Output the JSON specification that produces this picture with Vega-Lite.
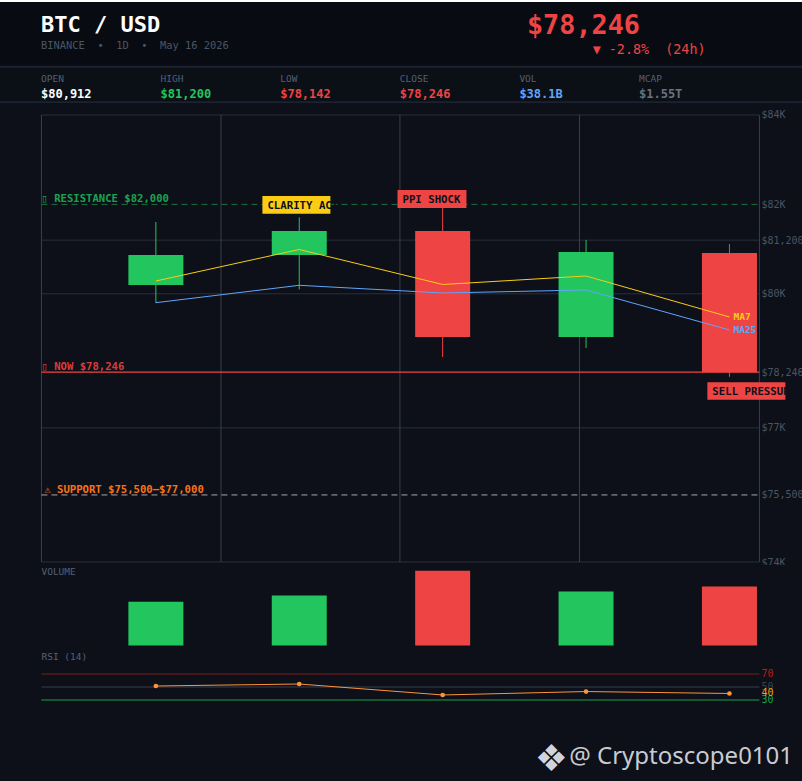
{
"$schema":"https://vega.github.io/schema/vega-lite/v6.json",
"background":"#0d1018",
"padding":{"left":-1,"top":-1,"right":0,"bottom":0},
"bounds":"flush",
"spacing":0,
"resolve":{"scale":{"color":"independent","fill":"independent"}},
"config":{"concat":{"spacing":0},"view":{"stroke":null,"fill":"#0d1018"},"text":{"font":"DejaVu Sans Mono"}},
"datasets":{
"candles":[
{"day":12,"open":80197,"close":80868,"high":81606,"low":79794,"dir":"up","vol":28.4,"ma7":80286,"ma25":79801,"rsi":51.5},
{"day":13,"open":80868,"close":81405,"high":81711,"low":80096,"dir":"up","vol":32.3,"ma7":80991,"ma25":80190,"rsi":54.6},
{"day":14,"open":81405,"close":79034,"high":81920,"low":78586,"dir":"down","vol":48.4,"ma7":80208,"ma25":80018,"rsi":37.7},
{"day":15,"open":79034,"close":80935,"high":81204,"low":78788,"dir":"up","vol":34.9,"ma7":80398,"ma25":80085,"rsi":43},
{"day":16,"open":80912,"close":78246,"high":81115,"low":78142,"dir":"down","vol":38.1,"ma7":79481,"ma25":79190,"rsi":40}
],
"levels":[
{"name":"resistance","price":82000,"label":"▯ RESISTANCE $82,000"},
{"name":"now","price":78246,"label":"▯ NOW $78,246"},
{"name":"support","price":75500,"label":"⚠ SUPPORT $75,500–$77,000"}
],
"events":[
{"event":"CLARITY ACT","kind":"news","from":12.743,"to":13.217,"top":82188,"bottom":81792},
{"event":"PPI SHOCK","kind":"shock","from":13.685,"to":14.166,"top":82322,"bottom":81920},
{"event":"SELL PRESSURE","kind":"shock","from":15.846,"to":16.39,"top":78022,"bottom":77630}
],
"stats":[
{"metric":"OPEN","value":"$80,912","tone":"neutral"},
{"metric":"HIGH","value":"$81,200","tone":"up"},
{"metric":"LOW","value":"$78,142","tone":"down"},
{"metric":"CLOSE","value":"$78,246","tone":"down"},
{"metric":"VOL","value":"$38.1B","tone":"volume"},
{"metric":"MCAP","value":"$1.55T","tone":"muted"}
]
},
"vconcat":[
{"width":803,"height":2,"view":{"fill":"#ffffff","stroke":null},"data":{"values":[{"t":1}]},"mark":{"type":"rule","opacity":0},"encoding":{}},
{"width":802,"height":64,"view":{"fill":"#080b12","stroke":null},
"layer":[
{"data":{"values":[{"t":"BTC / USD"}]},"mark":{"type":"text","align":"left","baseline":"middle","font":"DejaVu Sans Mono","fontWeight":"bold","fontSize":22,"color":"#ffffff"},
"encoding":{"x":{"datum":0.001,"type":"quantitative","axis":null,"scale":{"domain":[-0.343,6.373],"nice":false,"zero":false}},"y":{"datum":0.001,"type":"quantitative","axis":null,"scale":{"domain":[2.05,-1.15],"nice":false,"zero":false}},"text":{"field":"t"}}},
{"data":{"values":[{"t":"BINANCE\u00a0\u00a0•\u00a0\u00a01D\u00a0\u00a0•\u00a0\u00a0May 16 2026"}]},"mark":{"type":"text","align":"left","baseline":"middle","fontSize":10.4,"color":"#4b5563"},
"encoding":{"x":{"datum":0.001,"type":"quantitative","axis":null},"y":{"datum":1.03,"type":"quantitative","axis":null},"text":{"field":"t"}}},
{"data":{"values":[{"t":"$78,246"}]},"mark":{"type":"text","align":"left","baseline":"middle","fontWeight":"bold","fontSize":26.8,"color":"#ef4444"},
"encoding":{"x":{"datum":4.07,"type":"quantitative","axis":null},"y":{"datum":0.05,"type":"quantitative","axis":null},"text":{"field":"t"}}},
{"data":{"values":[{"t":"▼ -2.8%\u00a0\u00a0(24h)"}]},"mark":{"type":"text","align":"left","baseline":"middle","fontSize":13.4,"color":"#ef4444"},
"encoding":{"x":{"datum":4.62,"type":"quantitative","axis":null},"y":{"datum":1.25,"type":"quantitative","axis":null},"text":{"field":"t"}}}
]},
{"width":802,"height":37,"view":{"fill":"#0b0f16","stroke":null},
"data":{"name":"stats"},
"layer":[
{"data":{"values":[{"edge":-0.785},{"edge":1.495}]},"mark":{"type":"rule","color":"#1c2230","strokeWidth":2},
"encoding":{"y":{"field":"edge","type":"quantitative","axis":null,"scale":{"domain":[1.5485,-0.8385],"nice":false,"zero":false}}}},
{"mark":{"type":"text","align":"left","baseline":"middle","fontSize":9.5,"color":"#566073"},
"encoding":{"x":{"field":"metric","type":"nominal","sort":null,"axis":null,"scale":{"type":"point","range":[41,639],"padding":0}},"y":{"datum":0.001,"type":"quantitative","axis":null},"text":{"field":"metric"}}},
{"mark":{"type":"text","align":"left","baseline":"middle","fontSize":12,"fontWeight":"bold"},
"encoding":{"x":{"field":"metric","type":"nominal","sort":null,"axis":null},"y":{"datum":1,"type":"quantitative","axis":null},"text":{"field":"value"},
"color":{"field":"tone","type":"nominal","legend":null,"scale":{"domain":["neutral","up","down","volume","muted"],"range":["#ffffff","#22c55e","#ef4444","#60a5fa","#6b7280"]}}}}
]},
{"width":802,"height":462,
"layer":[
{"data":{"values":[{"price":84000},{"price":81200},{"price":80000},{"price":77000},{"price":74000}]},
"mark":{"type":"rule","color":"#2a2f3c","strokeWidth":1},
"encoding":{"x":{"datum":11.202,"type":"quantitative","axis":null,"scale":{"domain":[10.913,16.506],"nice":false,"zero":false,"padding":0}},"x2":{"datum":16.209},
"y":{"field":"price","type":"quantitative","scale":{"domain":[73933,84268],"nice":false,"zero":false},
"axis":{"orient":"right","offset":-43,"values":[84000,82000,81200,80000,78246,77000,75500,74000],"domain":false,"ticks":false,"grid":false,"title":null,"labelFont":"DejaVu Sans Mono","labelFontSize":10,"labelColor":"#4b5563","labelPadding":2,"labelOverlap":false,"labelFlush":false,"labelBound":false,"labelLimit":0,
"labelExpr":"datum.value%1000==0 ? '$'+datum.value/1000+'K' : '$'+format(datum.value,',')"}}}},
{"data":{"values":[{"g":11.202},{"g":12.454},{"g":13.702},{"g":14.954},{"g":16.209}]},
"mark":{"type":"rule","color":"#3a3f4c","strokeWidth":1},
"encoding":{"x":{"field":"g","type":"quantitative","axis":null},"y":{"datum":84000,"type":"quantitative"},"y2":{"datum":74000}}},
{"data":{"name":"levels"},"transform":[{"filter":"datum.name=='resistance'"}],
"mark":{"type":"rule","color":"#22c55e","strokeWidth":1,"strokeDash":[6,4],"opacity":0.55},
"encoding":{"x":{"datum":11.202,"type":"quantitative","axis":null},"x2":{"datum":16.209},"y":{"field":"price","type":"quantitative"}}},
{"data":{"name":"levels"},"transform":[{"filter":"datum.name=='support'"}],
"mark":{"type":"rule","color":"#e5e7eb","strokeWidth":1,"strokeDash":[6,4],"opacity":0.7},
"encoding":{"x":{"datum":11.202,"type":"quantitative","axis":null},"x2":{"datum":16.209},"y":{"field":"price","type":"quantitative"}}},
{"data":{"name":"candles"},"mark":{"type":"rule","strokeWidth":1},
"encoding":{"x":{"field":"day","type":"quantitative","axis":null},"y":{"field":"low","type":"quantitative"},"y2":{"field":"high"},
"color":{"field":"dir","type":"nominal","legend":null,"scale":{"domain":["up","down","resistance","now","support"],"range":["#22c55e","#ef4444","#1ba351","#d93c3c","#f97316"]}}}},
{"data":{"name":"candles"},"mark":{"type":"bar","size":55},
"encoding":{"x":{"field":"day","type":"quantitative","axis":null},"y":{"field":"open","type":"quantitative"},"y2":{"field":"close"},
"color":{"field":"dir","type":"nominal","legend":null}}},
{"data":{"name":"levels"},"transform":[{"filter":"datum.name=='now'"}],
"mark":{"type":"rule","color":"#ef4444","strokeWidth":1.2},
"encoding":{"x":{"datum":11.202,"type":"quantitative","axis":null},"x2":{"datum":16.209},"y":{"field":"price","type":"quantitative"}}},
{"data":{"name":"candles"},"mark":{"type":"line","color":"#facc15","strokeWidth":1},
"encoding":{"x":{"field":"day","type":"quantitative","axis":null},"y":{"field":"ma7","type":"quantitative"}}},
{"data":{"name":"candles"},"mark":{"type":"line","color":"#60a5fa","strokeWidth":1},
"encoding":{"x":{"field":"day","type":"quantitative","axis":null},"y":{"field":"ma25","type":"quantitative"}}},
{"data":{"name":"candles"},"transform":[{"filter":"datum.day==16"}],
"mark":{"type":"text","align":"left","baseline":"middle","dx":4,"fontSize":9.5,"fontWeight":"bold","color":"#facc15","text":"MA7"},
"encoding":{"x":{"field":"day","type":"quantitative","axis":null},"y":{"field":"ma7","type":"quantitative"}}},
{"data":{"name":"candles"},"transform":[{"filter":"datum.day==16"}],
"mark":{"type":"text","align":"left","baseline":"middle","dx":4,"fontSize":9.5,"fontWeight":"bold","color":"#60a5fa","text":"MA25"},
"encoding":{"x":{"field":"day","type":"quantitative","axis":null},"y":{"field":"ma25","type":"quantitative"}}},
{"data":{"name":"levels"},"transform":[{"filter":"datum.name!='support'"}],
"mark":{"type":"text","align":"left","baseline":"middle","dy":-5,"fontSize":10.6,"fontWeight":"bold"},
"encoding":{"x":{"datum":11.202,"type":"quantitative","axis":null},"y":{"field":"price","type":"quantitative"},"text":{"field":"label"},
"color":{"field":"name","type":"nominal","legend":null}}},
{"data":{"name":"levels"},"transform":[{"filter":"datum.name=='support'"}],
"mark":{"type":"text","align":"left","baseline":"middle","dy":-5,"fontSize":10.6,"fontWeight":"bold"},
"encoding":{"x":{"datum":11.222,"type":"quantitative","axis":null},"y":{"field":"price","type":"quantitative"},"text":{"field":"label"},
"color":{"field":"name","type":"nominal","legend":null}}},
{"data":{"name":"events"},"mark":{"type":"rect"},
"encoding":{"x":{"field":"from","type":"quantitative","axis":null},"x2":{"field":"to"},"y":{"field":"top","type":"quantitative"},"y2":{"field":"bottom"},
"fill":{"field":"kind","type":"nominal","legend":null,"scale":{"domain":["news","shock"],"range":["#facc15","#ef4444"]}}}},
{"data":{"name":"events"},"mark":{"type":"text","align":"left","baseline":"middle","dx":5,"dy":10,"fontSize":10.7,"fontWeight":"bold","color":"#0d1018"},
"encoding":{"x":{"field":"from","type":"quantitative","axis":null},"y":{"field":"top","type":"quantitative"},"text":{"field":"event"}}}
]},
{"width":802,"height":83,
"layer":[
{"data":{"name":"candles"},"mark":{"type":"bar","size":55},
"encoding":{"x":{"field":"day","type":"quantitative","axis":null,"scale":{"domain":[10.913,16.506],"nice":false,"zero":false,"padding":0}},"y":{"field":"vol","type":"quantitative","stack":null,"axis":null,"scale":{"domain":[-1.55,52.07],"nice":false,"zero":false}},
"color":{"field":"dir","type":"nominal","legend":null,"scale":{"domain":["up","down"],"range":["#22c55e","#ef4444"]}}}},
{"data":{"values":[{"t":"VOLUME"}]},"mark":{"type":"text","align":"left","baseline":"middle","fontSize":9.5,"color":"#566073"},
"encoding":{"x":{"datum":11.202,"type":"quantitative","axis":null},"y":{"datum":47.5,"type":"quantitative","axis":null},"text":{"field":"t"}}}
]},
{"width":802,"height":72,
"layer":[
{"data":{"values":[{"level":70}]},
"mark":{"type":"rule","strokeWidth":1,"color":"#7f1d1d"},
"encoding":{"x":{"datum":11.202,"type":"quantitative","axis":null,"scale":{"domain":[10.913,16.506],"nice":false,"zero":false}},"x2":{"datum":16.209},
"y":{"field":"level","type":"quantitative","axis":null,"scale":{"domain":[-0.8,110],"nice":false,"zero":false}}}},
{"data":{"values":[{"level":50}]},
"mark":{"type":"rule","strokeWidth":1,"color":"#3a3f4c"},
"encoding":{"x":{"datum":11.202,"type":"quantitative","axis":null},"x2":{"datum":16.209},"y":{"field":"level","type":"quantitative","axis":null}}},
{"data":{"values":[{"level":30}]},
"mark":{"type":"rule","strokeWidth":1,"color":"#16a34a"},
"encoding":{"x":{"datum":11.202,"type":"quantitative","axis":null},"x2":{"datum":16.209},"y":{"field":"level","type":"quantitative","axis":null}}},
{"data":{"name":"candles"},"mark":{"type":"line","color":"#fb923c","strokeWidth":1},
"encoding":{"x":{"field":"day","type":"quantitative","axis":null},"y":{"field":"rsi","type":"quantitative","axis":null}}},
{"data":{"name":"candles"},"mark":{"type":"point","filled":true,"size":22,"opacity":1,"color":"#fb923c"},
"encoding":{"x":{"field":"day","type":"quantitative","axis":null},"y":{"field":"rsi","type":"quantitative","axis":null}}},
{"data":{"values":[{"level":70,"tone":"over"},{"level":50,"tone":"mid"},{"level":30,"tone":"under"},{"level":40,"tone":"now"}]},
"mark":{"type":"text","align":"left","baseline":"middle","dx":2,"fontSize":10},
"encoding":{"x":{"datum":16.209,"type":"quantitative","axis":null},"y":{"field":"level","type":"quantitative","axis":null},"text":{"field":"level","type":"quantitative"},
"color":{"field":"tone","type":"nominal","legend":null,"scale":{"domain":["over","mid","under","now"],"range":["#b91c1c","#374151","#16a34a","#f59e0b"]}}}},
{"data":{"values":[{"t":"RSI (14)"}]},"mark":{"type":"text","align":"left","baseline":"middle","fontSize":9.5,"color":"#566073"},
"encoding":{"x":{"datum":11.202,"type":"quantitative","axis":null},"y":{"datum":96,"type":"quantitative","axis":null},"text":{"field":"t"}}}
]},
{"width":802,"height":61,
"layer":[
{"data":{"values":[{"t":"❖"}]},"mark":{"type":"text","align":"center","baseline":"middle","font":"DejaVu Sans","fontSize":37,"color":"#d1d5db"},
"encoding":{"x":{"datum":4.62,"type":"quantitative","axis":null,"scale":{"domain":[0,6.72],"nice":false,"zero":false}},"y":{"datum":0.35,"type":"quantitative","axis":null,"scale":{"domain":[0,1],"nice":false,"zero":false}},"text":{"field":"t"}}},
{"data":{"values":[{"t":"@ Cryptoscope0101"}]},"mark":{"type":"text","align":"right","baseline":"middle","font":"Noto Sans","fontSize":24,"color":"#c8ccd2"},
"encoding":{"x":{"datum":6.645,"type":"quantitative","axis":null},"y":{"datum":0.39,"type":"quantitative","axis":null},"text":{"field":"t"}}}
]}
]
}
